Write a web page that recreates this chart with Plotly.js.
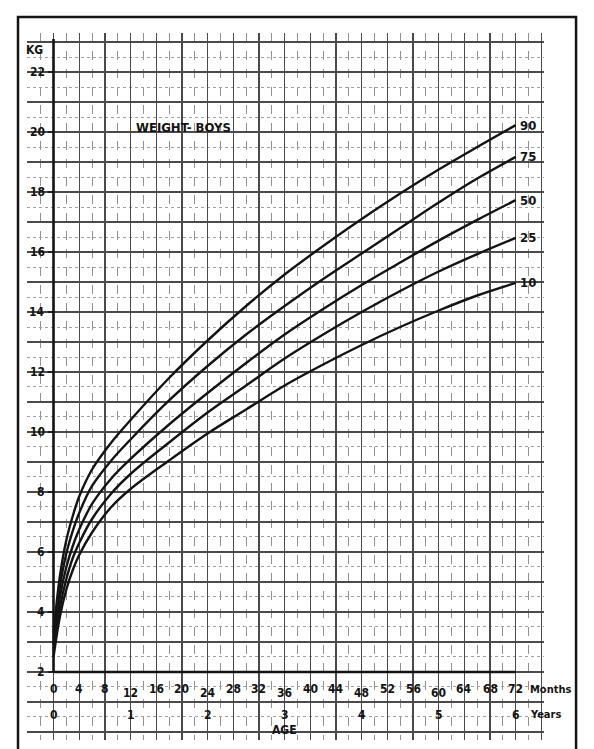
<!DOCTYPE html>
<html>
<head>
<meta charset="utf-8">
<script src="https://cdn.plot.ly/plotly-3.0.1.min.js"></script>
<style>
  html, body { margin: 0; padding: 0; background: #ffffff; }
  #chart { width: 594px; height: 749px; }
</style>
</head>
<body>
<div id="chart"></div>
<script>
// ---- data ----
const months = [0, 1, 2, 3, 4, 6, 9, 12, 18, 24, 30, 36, 42, 48, 54, 60, 66, 72];
const p90 = [3.3, 5.2, 6.4, 7.2, 7.85, 8.75, 9.65, 10.4, 11.8, 13.05, 14.2, 15.25, 16.2, 17.1, 17.95, 18.75, 19.5, 20.23];
const p75 = [3.1, 4.85, 5.95, 6.7, 7.3, 8.2, 9.05, 9.75, 11.05, 12.2, 13.25, 14.2, 15.1, 15.95, 16.8, 17.65, 18.45, 19.17];
const p50 = [2.9, 4.5, 5.5, 6.2, 6.75, 7.6, 8.45, 9.1, 10.25, 11.3, 12.3, 13.25, 14.1, 14.9, 15.65, 16.38, 17.07, 17.73];
const p25 = [2.7, 4.15, 5.1, 5.8, 6.3, 7.1, 7.95, 8.6, 9.65, 10.65, 11.55, 12.45, 13.25, 14.0, 14.7, 15.35, 15.93, 16.47];
const p10 = [2.5, 3.85, 4.75, 5.4, 5.9, 6.65, 7.5, 8.1, 9.05, 9.95, 10.75, 11.55, 12.25, 12.9, 13.5, 14.05, 14.55, 14.97];
const seriesNames = ["90", "75", "50", "25", "10"];
const monthTicks = [0, 4, 8, 12, 16, 20, 24, 28, 32, 36, 40, 44, 48, 52, 56, 60, 64, 68, 72];
const yearTicks = [0, 1, 2, 3, 4, 5, 6];
const kgTicks = [2, 4, 6, 8, 10, 12, 14, 16, 18, 20, 22];
const titleText = "WEIGHT- BOYS";

// ---- styling ----
const FONT = "'Liberation Sans Narrow', 'DejaVu Sans Condensed', 'Arial Narrow', sans-serif";
const INK = "#141414";
const series = [p90, p75, p50, p25, p10];

const traces = series.map((vals, i) => ({
  type: "scatter",
  mode: "lines",
  x: months,
  y: vals,
  name: seriesNames[i],
  line: { color: INK, width: 2.4, shape: "spline", smoothing: 1 },
  hoverinfo: "x+y+name"
}));

const annotations = [];
// percentile labels at curve ends
series.forEach((vals, i) => {
  annotations.push({
    x: months[months.length - 1] + 0.4, y: vals[vals.length - 1],
    xref: "x", yref: "y", text: "<b>" + seriesNames[i] + "</b>", showarrow: false,
    xanchor: "left", yanchor: "middle",
    font: { family: FONT, size: 13, color: INK }
  });
});
// kg labels
kgTicks.forEach(v => {
  annotations.push({
    x: -1.0, y: v, xref: "x", yref: "y", text: "<b>" + v + "</b>", showarrow: false,
    xanchor: "right", yanchor: "middle",
    font: { family: FONT, size: 12, color: INK }
  });
});
annotations.push({
  x: -2.9, y: 22.75, xref: "x", yref: "y", text: "<b>KG</b>", showarrow: false,
  xanchor: "center", yanchor: "middle",
  font: { family: FONT, size: 12, color: INK }
});
// month labels
monthTicks.forEach(m => {
  annotations.push({
    x: m, y: 1.42, xref: "x", yref: "y", text: "<b>" + m + "</b>", showarrow: false,
    xanchor: "center", yanchor: "middle",
    yshift: (m % 12 === 0 && m > 0 && m < 72) ? -4 : 0,
    font: { family: FONT, size: 12, color: INK }
  });
});
annotations.push({
  x: monthTicks[monthTicks.length - 1] + 1.9, y: 1.42, xref: "x", yref: "y",
  text: "<b>Months</b>", showarrow: false, xanchor: "left", yanchor: "middle",
  font: { family: FONT, size: 11, color: INK }
});
// year labels
yearTicks.forEach(yv => {
  annotations.push({
    x: yv * 12, y: 0.58, xref: "x", yref: "y", text: "<b>" + yv + "</b>", showarrow: false,
    xanchor: "center", yanchor: "middle",
    font: { family: FONT, size: 12, color: INK }
  });
});
annotations.push({
  x: yearTicks[yearTicks.length - 1] * 12 + 1.9, y: 0.58, xref: "x", yref: "y",
  text: "<b>Years</b>", showarrow: false, xanchor: "left", yanchor: "middle",
  font: { family: FONT, size: 11, color: INK }
});
annotations.push({
  x: 36, y: 0.05, xref: "x", yref: "y", text: "<b>AGE</b>", showarrow: false,
  xanchor: "center", yanchor: "middle",
  font: { family: FONT, size: 12, color: INK }
});
annotations.push({
  x: 20.2, y: 20.15, xref: "x", yref: "y", text: "<b>" + titleText + "</b>", showarrow: false,
  xanchor: "center", yanchor: "middle",
  font: { family: FONT, size: 13, color: INK }
});

const shapes = [];
// outer frame
shapes.push({
  type: "rect", xref: "paper", yref: "paper",
  x0: -0.0174, x1: 1.062, y0: -0.03, y1: 1.0226,
  line: { color: INK, width: 2.5 }, fillcolor: "rgba(0,0,0,0)", layer: "above"
});
// x axis line (kg = 2, months 0..72)
shapes.push({
  type: "line", xref: "x", yref: "y",
  x0: monthTicks[0], x1: monthTicks[monthTicks.length - 1],
  y0: kgTicks[0], y1: kgTicks[0],
  line: { color: INK, width: 2.6 }, layer: "above"
});
// y axis line (month 0)
shapes.push({
  type: "line", xref: "x", yref: "y",
  x0: monthTicks[0], x1: monthTicks[0],
  y0: kgTicks[0], y1: kgTicks[kgTicks.length - 1] + 1.1,
  line: { color: INK, width: 2.6 }, layer: "above"
});
// y tick dashes
kgTicks.forEach(v => {
  shapes.push({
    type: "line", xref: "x", yref: "y",
    x0: -0.9, x1: 0, y0: v, y1: v,
    line: { color: INK, width: 1.6 }, layer: "above"
  });
});

const layout = {
  width: 594, height: 749,
  margin: { l: 27, r: 50, t: 33, b: 9, pad: 0 },
  paper_bgcolor: "#ffffff",
  plot_bgcolor: "#ffffff",
  showlegend: false,
  xaxis: {
    range: [-4.13, 76.4],
    tick0: 0, dtick: 4,
    showgrid: true, gridcolor: "#4a4a4a", gridwidth: 1.3,
    minor: { tick0: 0, dtick: 2, showgrid: true, gridcolor: "#929292", gridwidth: 1, griddash: "dash" },
    zeroline: false, showline: false, showticklabels: false, ticks: "",
    fixedrange: true
  },
  yaxis: {
    range: [-0.267, 23.3],
    tick0: 0, dtick: 1,
    showgrid: true, gridcolor: "#4a4a4a", gridwidth: 1.3,
    minor: { tick0: 0, dtick: 0.5, showgrid: true, gridcolor: "#a0a0a0", gridwidth: 1, griddash: "dot" },
    zeroline: false, showline: false, showticklabels: false, ticks: "",
    fixedrange: true
  },
  annotations: annotations,
  shapes: shapes
};

Plotly.newPlot("chart", traces, layout, { displayModeBar: false, staticPlot: true });
</script>
</body>
</html>
